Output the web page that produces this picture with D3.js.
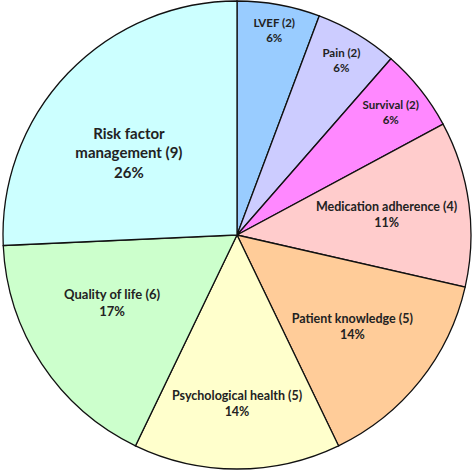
<!DOCTYPE html>
<meta charset="utf-8">
<style>
body { margin: 0; background: #fff; }
.slice { stroke: #111; stroke-width: 1.3; }
.label { font-family: Lato, "Open Sans", sans-serif; font-weight: bold; fill: #222; text-anchor: middle; }
</style>
<body>
<script src="https://cdn.jsdelivr.net/npm/d3@7"></script>
<script>
// outcome categories, clockwise from 12 o'clock
var categories = ["LVEF", "Pain", "Survival", "Medication adherence", "Patient knowledge",
                  "Psychological health", "Quality of life", "Risk factor management"];
var counts = [2, 2, 2, 4, 5, 5, 6, 9];
var percents = ["6%", "6%", "6%", "11%", "14%", "14%", "17%", "26%"];
var colors = ["#99ccff", "#ccccff", "#ff88ff", "#ffcccc", "#ffcc99", "#ffffcc", "#ccffcc", "#ccffff"];

// label layout: distance from centre (fraction of radius), angle nudge (deg), font size, line breaks
var labelRadius = [0.89, 0.87, 0.84, 0.645, 0.63, 0.72, 0.607, 0.58];
var labelNudge = [0, 0, 0, 0, 0, 0, 5, -6.5];
var labelSize = [11.5, 11.5, 11.5, 12.5, 12.5, 12.5, 13, 15];
var labelLines = [null, null, null, null, null, null, null, ["Risk factor", "management (9)"]];

var width = 474, height = 472,
    cx = 237, cy = 235, radius = 234;

var svg = d3.select("body").append("svg")
    .attr("width", width)
    .attr("height", height)
  .append("g")
    .attr("transform", "translate(" + cx + "," + cy + ")");

var data = categories.map(function(c, i) {
  return {name: c, count: counts[i], pct: percents[i], color: colors[i], i: i};
});

var pie = d3.pie().sort(null).value(function(d) { return d.count; });
var arc = d3.arc().innerRadius(0).outerRadius(radius);

var arcs = pie(data);

svg.selectAll(".slice")
    .data(arcs)
  .enter().append("path")
    .attr("class", "slice")
    .attr("d", arc)
    .style("fill", function(d) { return d.data.color; });

var labels = svg.selectAll(".label")
    .data(arcs)
  .enter().append("text")
    .attr("class", "label")
    .style("font-size", function(d) { return labelSize[d.data.i] + "px"; })
    .attr("transform", function(d) {
      var r = radius * labelRadius[d.data.i];
      var a = (d.startAngle + d.endAngle) / 2 + labelNudge[d.data.i] * Math.PI / 180;
      return "translate(" + (r * Math.sin(a)) + "," + (-r * Math.cos(a)) + ")";
    });

labels.each(function(d) {
  var t = d3.select(this);
  var lines = (labelLines[d.data.i] || [d.data.name + " (" + d.data.count + ")"]).concat([d.data.pct]);
  var lh = labelSize[d.data.i] * 1.3;
  var y0 = -(lines.length - 1) * lh / 2;
  lines.forEach(function(l, k) {
    t.append("tspan")
      .attr("x", 0)
      .attr("y", y0 + k * lh)
      .attr("dy", "0.35em")
      .text(l);
  });
});
</script>
</body>
</html>
